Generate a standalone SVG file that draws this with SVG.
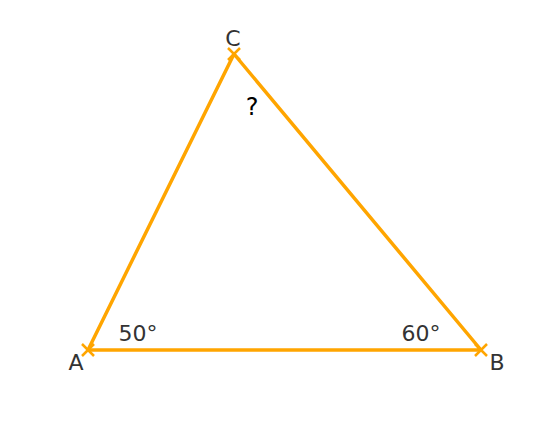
<svg xmlns="http://www.w3.org/2000/svg" width="541" height="421" viewBox="0 0 541 421">
<style>
.edge{stroke:#FFA500;stroke-width:3.5;fill:none;stroke-linejoin:round}
.tick{stroke:#FFA500;stroke-width:2.5;fill:none}
.lbl{font-family:"DejaVu Sans",sans-serif;font-size:22px;fill:#333;text-anchor:middle}
.q{font-family:"DejaVu Sans",sans-serif;font-size:24px;fill:#000;text-anchor:middle}
</style>
<rect width="541" height="421" fill="#fff"/>
<g id="connectors">
<path class="edge" d="M88,350 L481,350 L234,54 Z"/>
</g>
<g id="A"><path class="tick" d="M82,344 L94,356 M82,356 L94,344"/><text class="lbl" x="76" y="370">A</text><text class="lbl" x="138" y="341">50°</text></g>
<g id="B"><path class="tick" d="M475,344 L487,356 M475,356 L487,344"/><text class="lbl" x="497" y="370">B</text><text class="lbl" x="421" y="341">60°</text></g>
<g id="C"><path class="tick" d="M228,48 L240,60 M228,60 L240,48"/><text class="lbl" x="233" y="46">C</text><text class="q" x="252" y="115">?</text></g>
</svg>
